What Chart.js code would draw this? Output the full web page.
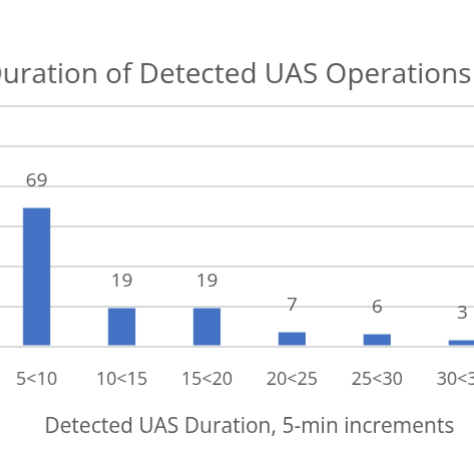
<!DOCTYPE html>
<html><head><meta charset="utf-8">
<script src="https://cdn.jsdelivr.net/npm/chart.js@4"></script>
<style>html,body{margin:0;padding:0;overflow:hidden;background:#fff;width:474px;height:474px}
#wrap{position:absolute;left:-150px;top:0;width:740px;height:470px}</style>
</head><body>
<div id="wrap"><canvas id="c"></canvas></div>
<script>
const categories = ["0<5","5<10","10<15","15<20","20<25","25<30","30<35","35<40"];
const counts = [105,69,19,19,7,6,3,2];
const yTicks = [0,20,40,60,80,100,120];
const grey = '#595959';
const labelPlugin = {id:'lbl',afterDatasetsDraw(ch){
  const ctx=ch.ctx, meta=ch.getDatasetMeta(0);
  ctx.save();ctx.fillStyle=grey;ctx.font='19px "Open Sans"';ctx.textAlign='center';ctx.textBaseline='middle';
  meta.data.forEach((b,i)=>ctx.fillText(counts[i],b.x,b.y-27));ctx.restore();}};
const ch = new Chart(document.getElementById('c'),{
  type:'bar',
  data:{labels:categories,datasets:[{data:counts,backgroundColor:'#4472C4',categoryPercentage:0.32,barPercentage:1}]},
  options:{responsive:true,maintainAspectRatio:false,animation:false,
    layout:{padding:{top:40,bottom:20,left:10,right:10}},
    plugins:{legend:{display:false},tooltip:{enabled:false},
      title:{display:true,text:'Duration of Detected UAS Operations',color:grey,font:{family:'Open Sans',size:28,weight:'normal'},padding:{bottom:14}}},
    scales:{
      x:{grid:{display:false},border:{display:false},ticks:{color:grey,font:{family:'Open Sans',size:18},padding:14},
        title:{display:true,text:'Detected UAS Duration, 5-min increments',color:grey,font:{family:'Open Sans',size:21},padding:{top:10}}},
      y:{min:0,max:120,afterBuildTicks(s){s.ticks=yTicks.map(v=>({value:v}));},
        grid:{color:'#d9d9d9',lineWidth:2},border:{display:false},ticks:{color:grey,font:{family:'Open Sans',size:18}}}
    }},
  plugins:[labelPlugin]
});
const w=document.getElementById('wrap');
const sx=ch.scales.x, sy=ch.scales.y;
const step=sx.getPixelForValue(2)-sx.getPixelForValue(1);
const newW=740-(step-85)*8;
const unit=(sy.getPixelForValue(0)-sy.getPixelForValue(120));
const newH=470-(unit-240);
w.style.width=newW+'px';w.style.height=newH+'px';
ch.resize();
const dx=36-ch.scales.x.getPixelForValue(1);
const dy=346-ch.scales.y.getPixelForValue(0);
w.style.left=dx+'px';w.style.top=dy+'px';
</script></body></html>
